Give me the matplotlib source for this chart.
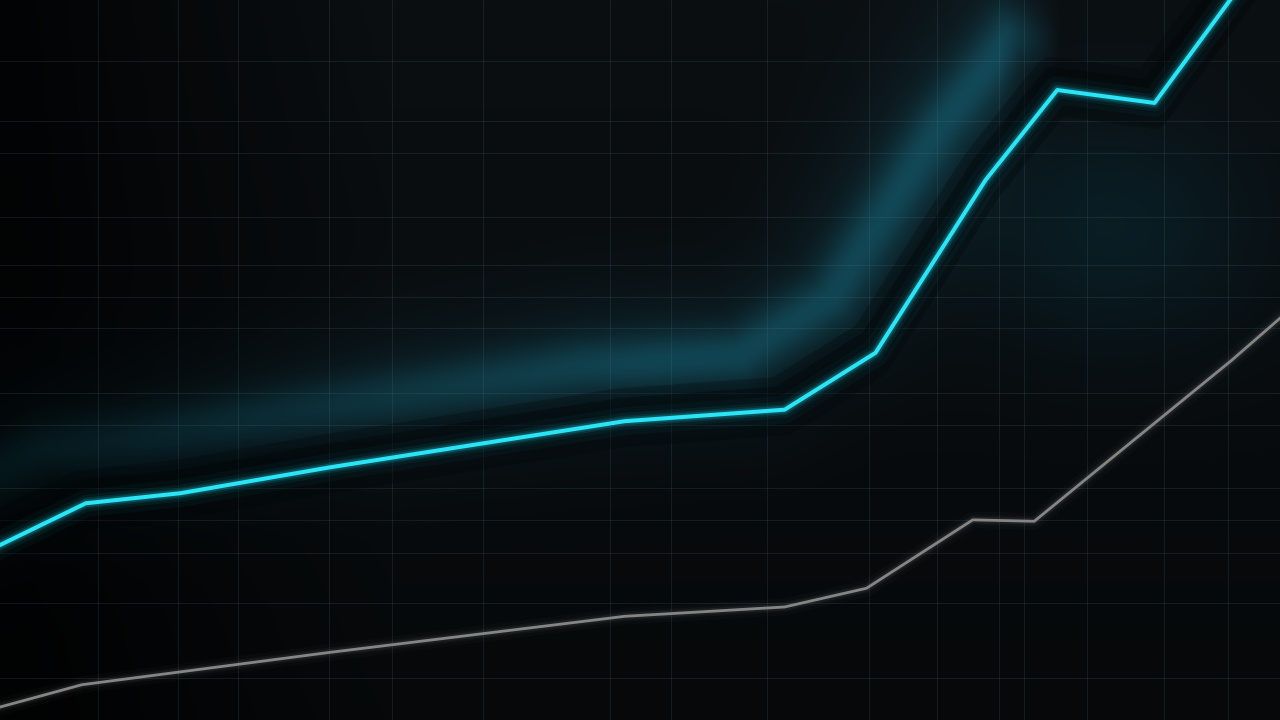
import numpy as np
import matplotlib
matplotlib.use("Agg")
import matplotlib.pyplot as plt
import matplotlib.transforms as mtransforms

# ---- data (0-100 scale) ----
cyan_x = [0, 6.7, 14.1, 25.8, 48.8, 61.3, 68.4, 77.0, 82.6, 90.2, 96.1, 100]
cyan_y = [24.3, 30.1, 31.5, 35.1, 41.5, 43.1, 51.0, 75.0, 87.5, 85.7, 100.0, 109.6]
gray_x = [0, 6.4, 25.8, 48.8, 61.3, 67.7, 76.0, 80.8, 96.25, 100]
gray_y = [1.8, 4.9, 9.4, 14.4, 15.7, 18.3, 27.8, 27.6, 50.0, 55.8]

# grid positions (pixels)
vgrid = [98, 178, 238, 329, 392, 483, 610, 671, 767, 869, 937, 999, 1024, 1087, 1164, 1228]
hgrid = [61, 121, 153, 217, 265, 297, 328, 393, 425, 488, 520, 553, 603, 678]

W, H = 1280, 720
fig = plt.figure(figsize=(12.8, 7.2), dpi=100)
ax = fig.add_axes([0, 0, 1, 1])
ax.set_xlim(0, 100)
ax.set_ylim(0, 100)
ax.axis("off")

# background
yy, xx = np.mgrid[0:H, 0:W].astype(float)
xn = xx / W
yn = yy / H
base = np.zeros((H, W, 3))
bright = 0.25 + 0.75 * np.clip((xn - 0.02) * 3.5, 0, 1)
base[..., 0] = 11 / 255 * bright
base[..., 1] = 15 / 255 * bright
base[..., 2] = 18 / 255 * bright
dark = 1 - 0.45 * yn
base *= dark[..., None]
g1 = np.exp(-(((xx - 1110) / 150) ** 2 + ((yy - 230) / 120) ** 2))
teal = np.array([0.0, 0.16, 0.20])
base += teal[None, None, :] * (0.40 * g1)[..., None]

# soft haze: blurred copy of the cyan series, displaced up-left (pixel space)
pts = ax.transData.transform(np.column_stack([cyan_x, cyan_y]))
px = pts[:, 0] - 45
py = (H - pts[:, 1]) - 55
dmin = np.full((H, W), 1e9)
for i in range(len(px) - 1):
    ax0, ay0, bx0, by0 = px[i], py[i], px[i + 1], py[i + 1]
    dx, dy = bx0 - ax0, by0 - ay0
    t = np.clip(((xx - ax0) * dx + (yy - ay0) * dy) / (dx * dx + dy * dy), 0, 1)
    d = np.hypot(xx - (ax0 + t * dx), yy - (ay0 + t * dy))
    dmin = np.minimum(dmin, d)
wx = np.clip(0.35 + 0.65 * xx / 650, 0, 1) * np.clip((1060 - xx) / 60, 0, 1)
haze = (0.75 * np.exp(-(dmin / 28) ** 2) + 0.35 * np.exp(-(dmin / 80) ** 2)) * wx
base += np.array([0.03, 0.20, 0.24])[None, None, :] * haze[..., None]
base = np.clip(base, 0, 1)
ax.imshow(base, extent=[0, 100, 0, 100], aspect="auto", zorder=0, origin="upper")

# grid
for v in vgrid:
    ax.axvline(v / W * 100, color="#5a7f86", lw=0.8, alpha=0.17, zorder=1)
for h in hgrid:
    ax.axhline(100 - h / H * 100, color="#5a7f86", lw=0.8, alpha=0.17, zorder=1)

def shifted(dx_in, dy_in):
    return ax.transData + mtransforms.ScaledTranslation(dx_in, dy_in, fig.dpi_scale_trans)

# dark shadow hugging the cyan line
sh = shifted(-0.05, 0.12)
for lw, a in [(30, 0.25), (16, 0.35)]:
    ax.plot(cyan_x, cyan_y, color="#020507", lw=lw, alpha=a, transform=sh,
            solid_joinstyle="round", zorder=2.5)
shd = shifted(0.0, -0.12)
ax.plot(cyan_x, cyan_y, color="#020507", lw=20, alpha=0.3, transform=shd,
        solid_joinstyle="round", zorder=2.5)

# glow for cyan line
for lw, a in [(20, 0.04), (12, 0.07), (8, 0.11), (5.5, 0.2)]:
    ax.plot(cyan_x, cyan_y, color="#18d6ea", lw=lw, alpha=a,
            solid_joinstyle="round", zorder=3)
ax.plot(cyan_x, cyan_y, color="#2be4f6", lw=2.9, solid_joinstyle="round", zorder=4)

# gray line
for lw, a in [(12, 0.03), (7, 0.05), (4.5, 0.09)]:
    ax.plot(gray_x, gray_y, color="#9a9a9a", lw=lw, alpha=a,
            solid_joinstyle="round", zorder=3)
ax.plot(gray_x, gray_y, color="#858585", lw=2.0, solid_joinstyle="round", zorder=4)

fig.savefig("out.png", dpi=100)
